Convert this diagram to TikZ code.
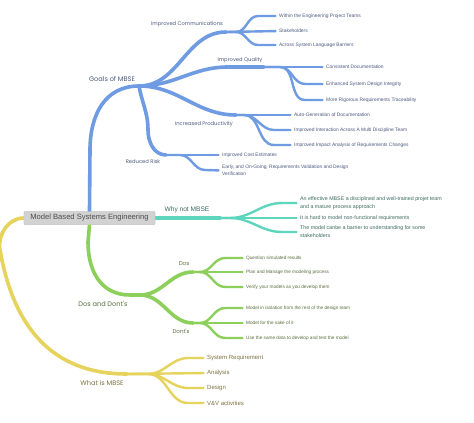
\documentclass[tikz,border=0pt]{standalone}
\usepackage{fontspec}
\setmainfont{Liberation Sans}
\newfontfamily\pop{Poppins}
\definecolor{blueC}{HTML}{6E9BE2}
\definecolor{tealC}{HTML}{5ED6BD}
\definecolor{greenC}{HTML}{8CCF5A}
\definecolor{yellowC}{HTML}{E6D35B}
\definecolor{blueT}{HTML}{4D5A80}
\definecolor{tealT}{HTML}{3B6B60}
\definecolor{greenT}{HTML}{5A6E3E}
\definecolor{yellowT}{HTML}{7D7445}
\begin{document}
\begin{tikzpicture}[x=1pt,y=1pt,
  mainline/.style={line width=3.6pt, line cap=round},
  kidline/.style={line width=2.4pt, line cap=round, shorten >=3.5pt},
  rootbox/.style={fill=gray!35, draw=gray!45, line width=0.4pt, rounded corners=1pt,
    minimum width=131pt, minimum height=13pt, inner sep=0pt, text=black!70,
    font=\fontsize{7.6}{9}\selectfont},
  brlabel/.style={inner sep=0pt, font=\pop\fontsize{5.2}{6}\selectfont},
  toplabel/.style={inner sep=0pt, font=\pop\fontsize{6.6}{8}\selectfont},
  bkid/.style={inner sep=0pt, anchor=west, align=left, text=blueT, font=\fontsize{4.9}{7.2}\selectfont},
  tkid/.style={inner sep=0pt, anchor=west, align=left, text=tealT, font=\fontsize{5.3}{8}\selectfont},
  gkid/.style={inner sep=0pt, anchor=west, align=left, text=greenT, font=\fontsize{4.7}{6}\selectfont},
  ykid/.style={inner sep=0pt, anchor=west, align=left, text=yellowT, font=\fontsize{6}{7}\selectfont}]
\useasboundingbox (0,0) rectangle (474,-423);
\clip (0,0) rectangle (474,-423);
\fill[white] (0,0) rectangle (474,-423);

% ---------- junctions ----------
\coordinate (goals) at (139,-86);
\coordinate (comm) at (226,-32);
\coordinate (qual) at (264,-67);
\coordinate (prod) at (236,-115);
\coordinate (risk) at (166,-155);
\coordinate (why) at (220,-218);
\coordinate (dd) at (130,-295);
\coordinate (dos) at (193,-272);
\coordinate (dont) at (193,-323);
\coordinate (what) at (127,-374);

% ---------- root ----------
\node[rootbox] (root) at (89.5,-218) {Model Based Systems Engineering};

% ---------- labels ----------
\node[toplabel, text=blueT] (goalsL) at (112,-79) {Goals of MBSE};
\node[brlabel, text=blueT] (commL) at (187,-24) {Improved Communications};
\node[brlabel, text=blueT] (qualL) at (240,-60) {Improved Quality};
\node[brlabel, text=blueT] (prodL) at (204,-124) {Increased Productivity};
\node[brlabel, text=blueT] (riskL) at (143,-162) {Reduced Risk};
\node[inner sep=0pt, text=tealT, font=\fontsize{6.6}{8}\selectfont] (whyL) at (187,-210) {Why not MBSE};
\node[toplabel, text=greenT] (ddL) at (103,-304) {Dos and Dont's};
\node[brlabel, text=greenT, font=\pop\fontsize{5.6}{7}\selectfont] (dosL) at (184,-264) {Dos};
\node[brlabel, text=greenT, font=\pop\fontsize{5.6}{7}\selectfont] (dontL) at (181,-331) {Dont's};
\node[toplabel, text=yellowT] (whatL) at (102,-383) {What is MBSE};

% ---------- leaf texts ----------
\node[bkid] (c1) at (279,-16) {Within the Engineering Project Teams};
\node[bkid] (c2) at (279,-31) {Stakeholders};
\node[bkid] (c3) at (279,-45) {Across System Language Barriers};
\node[bkid] (q1) at (326,-67) {Consistent Documentation};
\node[bkid] (q2) at (326,-84) {Enhanced System Design Integrity};
\node[bkid] (q3) at (326,-100) {More Rigorous Requirements Traceability};
\node[bkid] (p1) at (294,-115) {Auto-Generation of Documentation};
\node[bkid] (p2) at (294,-130) {Improved Interaction Across A Multi Discipline Team};
\node[bkid] (p3) at (294,-145) {Improved Impact Analysis of Requirements Changes};
\node[bkid] (r1) at (222,-155) {Improved Cost Estimates};
\node[bkid] (r2) at (222,-170.5) {Early, and On-Going, Requirements Validation and Design\\Verification};
\node[tkid] (w1) at (300,-203) {An effective MBSE a disciplined and well-trained projet team\\and a mature process approach};
\node[tkid] (w2) at (300,-218) {It is hard to model non-functional requirements};
\node[tkid] (w3) at (300,-232) {The model canbe a barrier to understanding for some\\stakeholders};
\node[gkid] (d1) at (246,-258) {Question simulated results};
\node[gkid] (d2) at (246,-272) {Plan and Manage the modeling process};
\node[gkid] (d3) at (246,-287) {Verify your models as you develop them};
\node[gkid] (n1) at (246,-308) {Model in isolation from the rest of the design team};
\node[gkid] (n2) at (246,-323) {Model for the sake of it};
\node[gkid] (n3) at (246,-338) {Use the same data to develop and test the model};
\node[ykid] (y1) at (207,-358) {System Requirement};
\node[ykid] (y2) at (207,-373) {Analysis};
\node[ykid] (y3) at (207,-388) {Design};
\node[ykid] (y4) at (207,-403) {V\&V activities};

% ---------- blue branch ----------
\begin{scope}[draw=blueC]
\draw[mainline] (root.north) -- (90,-150) to[out=90,in=180,looseness=1.1] (goals);
\draw[mainline] (goals) to[out=0,in=180] (comm);
\draw[mainline] (goals) to[out=0,in=180] (228,-67) -- (qual);
\draw[mainline] (goals) to[out=0,in=180] (prod);
\draw[mainline] (goals) to[out=-80,in=90] (148,-130) to[out=-90,in=180] (risk);
\draw[kidline] (comm) -- (236,-32) to[out=0,in=180] (258,-16) -- (c1.west);
\draw[kidline] (comm) -- (c2.west);
\draw[kidline] (comm) -- (236,-32) to[out=0,in=180] (258,-45) -- (c3.west);
\draw[kidline] (qual) -- (q1.west);
\draw[kidline] (qual) -- (280,-67) to[out=0,in=180] (305,-84) -- (q2.west);
\draw[kidline] (qual) -- (280,-67) to[out=0,in=180] (305,-100) -- (q3.west);
\draw[kidline] (prod) -- (p1.west);
\draw[kidline] (prod) -- (244,-115) to[out=0,in=180] (274,-130) -- (p2.west);
\draw[kidline] (prod) -- (244,-115) to[out=0,in=180] (274,-145) -- (p3.west);
\draw[kidline] (risk) -- (r1.west);
\draw[kidline] (risk) -- (180,-155) to[out=0,in=180] (205,-170) -- (r2.west);
\end{scope}

% ---------- teal branch ----------
\begin{scope}[draw=tealC]
\draw[mainline] (root.east) -- (why);
\draw[kidline] (why) -- (230,-218) to[out=0,in=180] (282,-203) -- (w1.west);
\draw[kidline] (why) -- (w2.west);
\draw[kidline] (why) -- (230,-218) to[out=0,in=180] (282,-232) -- (w3.west);
\end{scope}

% ---------- green branch ----------
\begin{scope}[draw=greenC]
\draw[mainline] (root.south) -- (88,-242) to[out=-90,in=180,looseness=1.1] (dd);
\draw[mainline] (dd) -- (140,-295) to[out=0,in=180] (dos);
\draw[mainline] (dd) -- (140,-295) to[out=0,in=180] (dont);
\draw[kidline] (dos) -- (200,-272) to[out=0,in=180] (225,-258) -- (d1.west);
\draw[kidline] (dos) -- (d2.west);
\draw[kidline] (dos) -- (200,-272) to[out=0,in=180] (225,-287) -- (d3.west);
\draw[kidline] (dont) -- (200,-323) to[out=0,in=180] (225,-308) -- (n1.west);
\draw[kidline] (dont) -- (n2.west);
\draw[kidline] (dont) -- (200,-323) to[out=0,in=180] (225,-338) -- (n3.west);
\end{scope}

% ---------- yellow branch ----------
\begin{scope}[draw=yellowC]
\draw[mainline] (root.west) to[out=180,in=100] (0,-250) to[out=-80,in=180,looseness=1.1] (what);
\draw[kidline] (what) -- (148,-374) to[out=0,in=180] (188,-358) -- (y1.west);
\draw[kidline] (what) -- (y2.west);
\draw[kidline] (what) -- (148,-374) to[out=0,in=180] (188,-388) -- (y3.west);
\draw[kidline] (what) -- (148,-374) to[out=0,in=180] (188,-403) -- (y4.west);
\end{scope}

% root drawn again on top of connectors
\node[rootbox] at (root) {Model Based Systems Engineering};
\end{tikzpicture}
\end{document}
